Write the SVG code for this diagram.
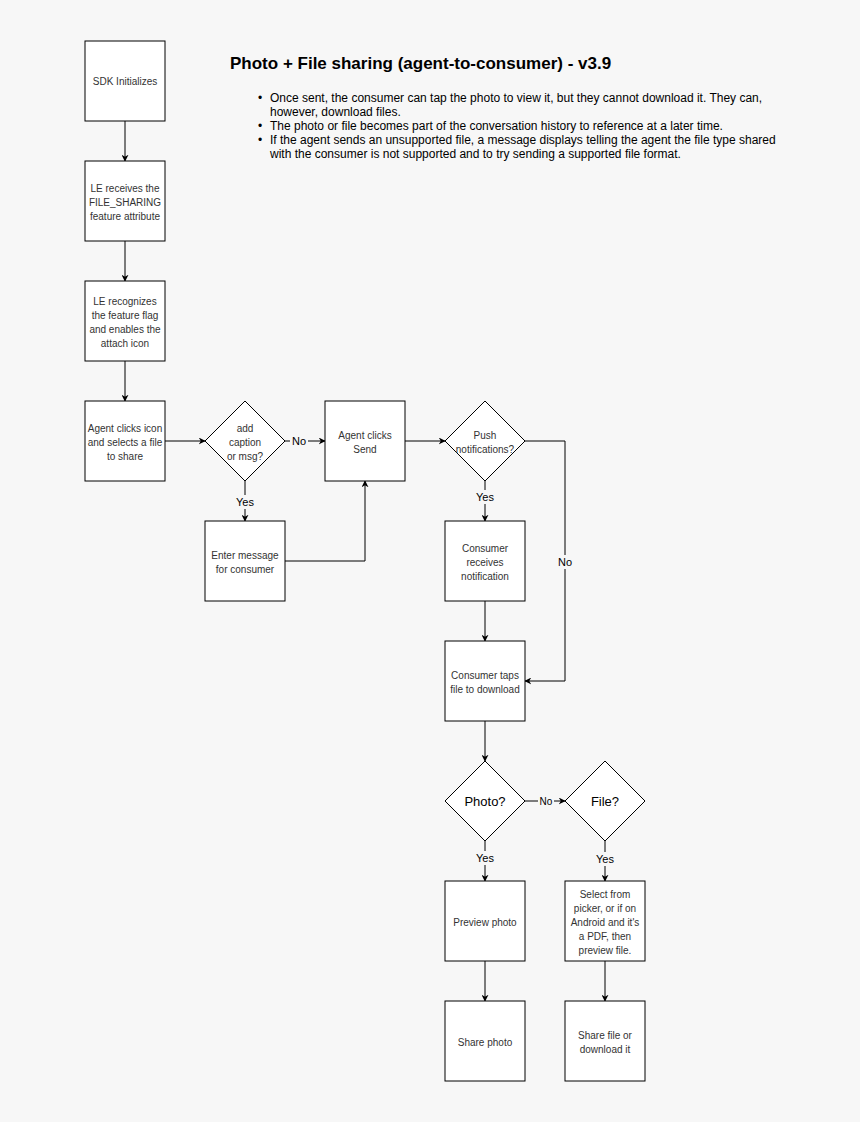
<svg xmlns="http://www.w3.org/2000/svg" width="860" height="1122" viewBox="0 0 860 1122">
<style>
.n{fill:#fff;stroke:#000;stroke-width:1}
.t{font-family:"Liberation Sans",Arial,sans-serif;font-size:10px;fill:#333;text-anchor:middle}
.d{font-family:"Liberation Sans",Arial,sans-serif;font-size:13px;fill:#000;text-anchor:middle}
.l{font-family:"Liberation Sans",Arial,sans-serif;font-size:11px;fill:#000;text-anchor:middle}
.c{fill:none;stroke:#000;stroke-width:1;marker-end:url(#a)}
.b{font-family:"Liberation Sans",Arial,sans-serif;font-size:12px;fill:#000}
</style>
<defs><marker id="a" viewBox="0 0 10 10" refX="9" refY="5" markerWidth="7" markerHeight="7" orient="auto" markerUnits="userSpaceOnUse"><path d="M0,0 L10,5 L0,10 L3,5 z" fill="#000"/></marker></defs>
<rect width="860" height="1122" fill="#f7f7f7"/>
<text x="230" y="69" font-family="Liberation Sans,Arial,sans-serif" font-size="17" font-weight="bold">Photo + File sharing (agent-to-consumer) - v3.9</text>
<g class="b">
<text x="258" y="102">•</text><text x="270" y="102">Once sent, the consumer can tap the photo to view it, but they cannot download it. They can,</text>
<text x="270" y="116">however, download files.</text>
<text x="258" y="130">•</text><text x="270" y="130">The photo or file becomes part of the conversation history to reference at a later time.</text>
<text x="258" y="144">•</text><text x="270" y="144">If the agent sends an unsupported file, a message displays telling the agent the file type shared</text>
<text x="270" y="158">with the consumer is not supported and to try sending a supported file format.</text>
</g>
<g id="connectors">
<path class="c" d="M125,121 V161"/>
<path class="c" d="M125,241 V281"/>
<path class="c" d="M125,361 V401"/>
<path class="c" d="M165,441 H205"/>
<path class="c" d="M285,441 H325"/>
<path class="c" d="M245,481 V521"/>
<path class="c" d="M285,561 H365 V481"/>
<path class="c" d="M405,441 H445"/>
<path class="c" d="M485,481 V521"/>
<path class="c" d="M525,441 H565 V681 H525"/>
<path class="c" d="M485,601 V641"/>
<path class="c" d="M485,721 V761"/>
<path class="c" d="M525,801 H565"/>
<path class="c" d="M485,841 V881"/>
<path class="c" d="M605,841 V881"/>
<path class="c" d="M485,961 V1001"/>
<path class="c" d="M605,961 V1001"/>
<g class="l">
<rect x="290" y="434" width="18" height="14" fill="#f7f7f7"/><text x="299" y="445">No</text>
<rect x="234" y="495" width="22" height="14" fill="#f7f7f7"/><text x="245" y="506">Yes</text>
<rect x="474" y="490" width="22" height="14" fill="#f7f7f7"/><text x="485" y="501">Yes</text>
<rect x="556" y="555" width="18" height="14" fill="#f7f7f7"/><text x="565" y="566">No</text>
<rect x="538" y="795" width="16" height="13" fill="#f7f7f7"/><text x="546" y="805" font-size="10">No</text>
<rect x="474" y="851" width="22" height="14" fill="#f7f7f7"/><text x="485" y="862">Yes</text>
<rect x="594" y="852" width="22" height="14" fill="#f7f7f7"/><text x="605" y="863">Yes</text>
</g>
</g>
<g id="sdk"><rect class="n" x="85" y="41" width="80" height="80"/><text class="t" x="125" y="85">SDK Initializes</text></g>
<g id="le1"><rect class="n" x="85" y="161" width="80" height="80"/><text class="t" x="125" y="192">LE receives the</text><text class="t" x="125" y="206">FILE_SHARING</text><text class="t" x="125" y="220">feature attribute</text></g>
<g id="le2"><rect class="n" x="85" y="281" width="80" height="80"/><text class="t" x="125" y="305">LE recognizes</text><text class="t" x="125" y="319">the feature flag</text><text class="t" x="125" y="333">and enables the</text><text class="t" x="125" y="347">attach icon</text></g>
<g id="agent"><rect class="n" x="85" y="401" width="80" height="80"/><text class="t" x="125" y="432">Agent clicks icon</text><text class="t" x="125" y="446">and selects a file</text><text class="t" x="125" y="460">to share</text></g>
<g id="caption"><path class="n" d="M245,401 L285,441 L245,481 L205,441 Z"/><text class="t" x="245" y="432">add</text><text class="t" x="245" y="446">caption</text><text class="t" x="245" y="460">or msg?</text></g>
<g id="send"><rect class="n" x="325" y="401" width="80" height="80"/><text class="t" x="365" y="439">Agent clicks</text><text class="t" x="365" y="453">Send</text></g>
<g id="push"><path class="n" d="M485,401 L525,441 L485,481 L445,441 Z"/><text class="t" x="485" y="439">Push</text><text class="t" x="485" y="453">notifications?</text></g>
<g id="enter"><rect class="n" x="205" y="521" width="80" height="80"/><text class="t" x="245" y="559">Enter message</text><text class="t" x="245" y="573">for consumer</text></g>
<g id="recv"><rect class="n" x="445" y="521" width="80" height="80"/><text class="t" x="485" y="552">Consumer</text><text class="t" x="485" y="566">receives</text><text class="t" x="485" y="580">notification</text></g>
<g id="taps"><rect class="n" x="445" y="641" width="80" height="80"/><text class="t" x="485" y="679">Consumer taps</text><text class="t" x="485" y="693">file to download</text></g>
<g id="photo"><path class="n" d="M485,761 L525,801 L485,841 L445,801 Z"/><text class="d" x="485" y="806">Photo?</text></g>
<g id="file"><path class="n" d="M605,761 L645,801 L605,841 L565,801 Z"/><text class="d" x="605" y="806">File?</text></g>
<g id="preview"><rect class="n" x="445" y="881" width="80" height="80"/><text class="t" x="485" y="926">Preview photo</text></g>
<g id="select"><rect class="n" x="565" y="881" width="80" height="80"/><text class="t" x="605" y="898">Select from</text><text class="t" x="605" y="912">picker, or if on</text><text class="t" x="605" y="926">Android and it's</text><text class="t" x="605" y="940">a PDF, then</text><text class="t" x="605" y="954">preview file.</text></g>
<g id="sharephoto"><rect class="n" x="445" y="1001" width="80" height="80"/><text class="t" x="485" y="1046">Share photo</text></g>
<g id="sharefile"><rect class="n" x="565" y="1001" width="80" height="80"/><text class="t" x="605" y="1039">Share file or</text><text class="t" x="605" y="1053">download it</text></g>
</svg>
